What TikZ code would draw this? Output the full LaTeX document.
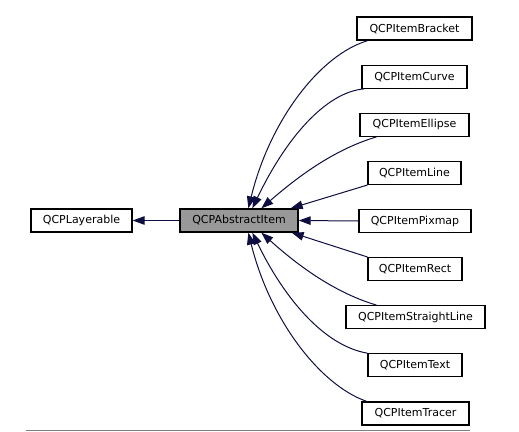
\documentclass[tikz,border=0pt]{standalone}
\usepackage{fontspec}
\setmainfont{DejaVu Sans}
\usetikzlibrary{arrows.meta}
\definecolor{edgecol}{RGB}{14,14,64}
\definecolor{absfill}{RGB}{153,153,153}
\begin{document}
\begin{tikzpicture}[x=1pt,y=-1pt,
  box/.style={draw=black,line width=1.3pt,fill=white,minimum height=23pt,inner sep=0pt,font=\fontsize{11}{13}\selectfont},
  edge/.style={draw=edgecol,line width=1pt,-{Triangle[length=12pt,width=8.5pt]}}]
\useasboundingbox (0,0) rectangle (519,431);
\node[box,minimum width=101pt] (lay) at (81.5,220.5) {QCPLayerable};
\node[box,minimum width=118pt,fill=absfill] (abs) at (239,220.5) {QCPAbstractItem};
\node[box,minimum width=115pt] (bracket) at (414.5,28.6) {QCPItemBracket};
\node[box,minimum width=105pt] (curve) at (414.5,76.7) {QCPItemCurve};
\node[box,minimum width=109pt] (ellipse) at (414.5,124.8) {QCPItemEllipse};
\node[box,minimum width=93pt] (line) at (414.5,172.9) {QCPItemLine};
\node[box,minimum width=112pt] (pixmap) at (415,221) {QCPItemPixmap};
\node[box,minimum width=94pt] (rect) at (415,269.1) {QCPItemRect};
\node[box,minimum width=139pt] (straight) at (415.5,317.2) {QCPItemStraightLine};
\node[box,minimum width=94pt] (text) at (415,365.3) {QCPItemText};
\node[box,minimum width=107pt] (tracer) at (415.5,413.4) {QCPItemTracer};
\draw[edge] (abs.west) -- (lay.east);
\draw[edge] ([xshift=11pt]bracket.south west) .. controls (320,55) and (270,120) .. ([xshift=69pt]abs.north west);
\draw[edge] ([xshift=3pt]curve.south west) .. controls (325,92) and (285,140) .. ([xshift=73pt]abs.north west);
\draw[edge] ([xshift=17pt]ellipse.south west) .. controls (332,150) and (294,180) .. ([xshift=82pt]abs.north west);
\draw[edge] (line.south west) -- ([xshift=-8pt]abs.north east);
\draw[edge] (pixmap.west) -- (abs.east);
\draw[edge] (rect.north west) -- ([xshift=-7pt]abs.south east);
\draw[edge] ([xshift=31pt]straight.north west) .. controls (332,292) and (294,262) .. ([xshift=82pt]abs.south west);
\draw[edge] (text.north west) .. controls (325,346) and (285,300) .. ([xshift=73pt]abs.south west);
\draw[edge] ([xshift=5pt]tracer.north west) .. controls (320,385) and (270,320) .. ([xshift=69pt]abs.south west);
\coordinate (ruleA) at (26,430);
\coordinate (ruleB) at (470,430);
\draw[draw={rgb,255:red,128;green,128;blue,128},line width=1pt] (ruleA) -- (ruleB);
\end{tikzpicture}
\end{document}
